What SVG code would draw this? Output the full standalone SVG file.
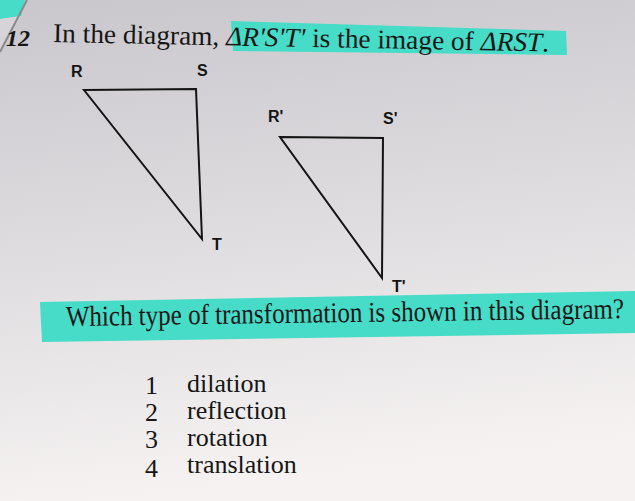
<svg xmlns="http://www.w3.org/2000/svg" width="635" height="501" viewBox="0 0 635 501">
  <defs>
    <linearGradient id="bg" x1="0" y1="0" x2="0.15" y2="1">
      <stop offset="0" stop-color="#c9c7cc"/>
      <stop offset="0.45" stop-color="#dcdadd"/>
      <stop offset="1" stop-color="#f6f2f2"/>
    </linearGradient>
  </defs>
  <style>
    .serif { font-family: "Liberation Serif", "Times New Roman", serif; fill: #161616; }
    .lbl { font-family: "Liberation Sans", Arial, sans-serif; font-weight: bold; font-size: 16px; fill: #141414; }
    .tri { fill: none; stroke: #141414; stroke-width: 2; stroke-linejoin: miter; }
    .hl { fill: #46dcc8; }
  </style>
  <rect x="0" y="0" width="635" height="501" fill="url(#bg)"/>

  <!-- page corner -->
  <g id="corner">
    <polygon points="0,0 25,0 21,16 0,19" class="hl"/>
    <polygon points="0,19 21,16 0,50" fill="#d6d4d8"/>
    <line x1="27" y1="0" x2="0" y2="52" stroke="#8a8a8e" stroke-width="2"/>
    <text x="6" y="46" class="serif" font-size="24" font-style="italic" font-weight="bold">12</text>
  </g>

  <!-- title -->
  <g id="title">
    <path d="M231,21 L566,31 L567,55 L233,51 Z" class="hl"/>
    <text x="53" y="42" class="serif" font-size="27" transform="rotate(1.1 53 42)" textLength="496" lengthAdjust="spacingAndGlyphs">In the diagram, <tspan font-style="italic">ΔR'S'T'</tspan> is the image of <tspan font-style="italic">ΔRST</tspan>.</text>
  </g>

  <!-- triangle RST -->
  <g id="triangle-RST">
    <polygon points="84,90 196,89 202,239" class="tri"/>
    <text x="71" y="77" class="lbl">R</text>
    <text x="197" y="76" class="lbl">S</text>
    <text x="212" y="250" class="lbl">T</text>
  </g>

  <!-- triangle R'S'T' -->
  <g id="triangle-RpSpTp">
    <polygon points="280,137 383,138 382,278" class="tri"/>
    <text x="268" y="122" class="lbl">R'</text>
    <text x="383" y="124" class="lbl">S'</text>
    <text x="392" y="292" class="lbl">T'</text>
  </g>

  <!-- question -->
  <g id="question">
    <path d="M40,302 L635,291 L635,333 L42,342 Z" class="hl"/>
    <text x="0" y="0" class="serif" font-size="25" transform="translate(66 326) rotate(-0.8) scale(1 1.15)">Which type of transformation is shown in this diagram?</text>
  </g>

  <!-- choices -->
  <g id="choices" class="serif" font-size="26">
    <text x="145" y="394">1</text>
    <text x="187" y="392">dilation</text>
    <text x="145" y="421">2</text>
    <text x="187" y="419">reflection</text>
    <text x="145" y="448">3</text>
    <text x="187" y="446">rotation</text>
    <text x="145" y="477">4</text>
    <text x="187" y="473">translation</text>
  </g>
</svg>
